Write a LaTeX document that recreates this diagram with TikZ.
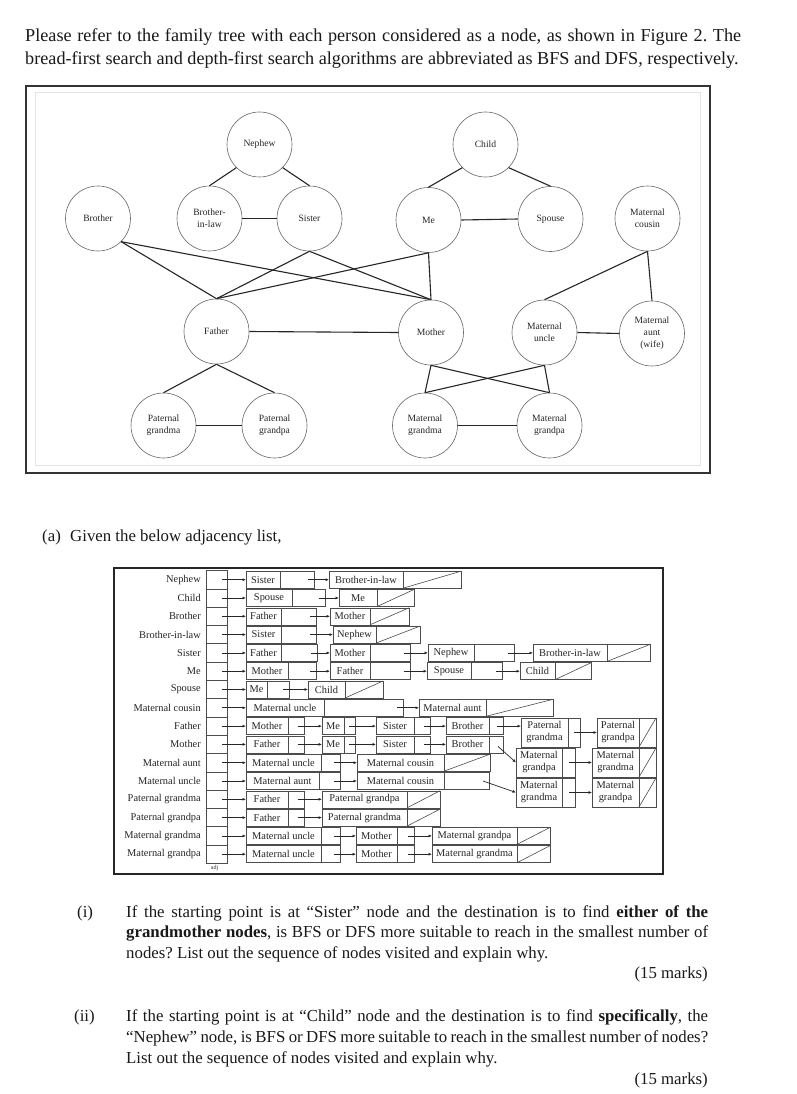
\documentclass[tikz,border=0pt]{standalone}
\usepackage{fontspec}
\setmainfont{Liberation Serif}
\usetikzlibrary{arrows.meta}
\frenchspacing
\newcommand\lcell[7]{%
  \node[lbox, minimum width={(#3-#2)*1pt}, minimum height={#6*1pt}, anchor=west] (#1) at (#2,#5) {#7};
  \node[lbox, minimum width={(#4-#3)*1pt}, minimum height={#6*1pt}, anchor=west] (#1p) at (#3,#5) {};}
\newcommand\lnull[1]{\draw[lline] (#1p.south west) -- (#1p.north east);}
\newcommand\larr[2]{\draw[arr] ([xshift=-6pt]#1p.east) -- (#1p.east -| #2.west);}
\begin{document}
\begin{tikzpicture}[x=1pt,y=-1pt,
  person/.style={circle, draw=black!60, line width=0.6pt, minimum size=65pt, inner sep=0pt, align=center, font=\fontsize{9.6}{12}\selectfont, text=black!85},
  edge/.style={line width=1.1pt, black!85},
  lbox/.style={draw=black!70, line width=0.6pt, inner sep=0pt, outer sep=0pt, align=center, font=\fontsize{10.4}{12}\selectfont, text=black!85},
  lline/.style={draw=black!70, line width=0.6pt},
  arr/.style={line width=0.7pt, black!85, -{Latex[length=3.5pt,width=3pt]}},
  rowlab/.style={anchor=east, font=\fontsize{10.4}{12}\selectfont, inner sep=0pt, text=black!85},
  body/.style={font=\fontsize{16.8}{20}\selectfont, inner sep=0pt, text=black!90},
  introtext/.style={font=\fontsize{18.2}{22}\selectfont, inner sep=0pt, text=black!90},
]
\useasboundingbox (0,0) rectangle (796,1094);
\fill[white] (0,0) rectangle (796,1094);

% ---------- intro text ----------
\node[introtext, anchor=base west] (intro1) at (25,42) {\makebox[716pt][s]{Please refer to the family tree with each person considered as a node, as shown in Figure 2. The}};
\node[introtext, anchor=base west] (intro2) at (25,65) {bread-first search and depth-first search algorithms are abbreviated as BFS and DFS, respectively.};

% ---------- family tree ----------
\draw[line width=1.3pt, black!80] (26,86) rectangle (710,473);
\draw[black!10, line width=0.6pt] (35,92) rectangle (700,465);

\node[person] (nephew) at (259.5,144.5) {Nephew};
\node[person] (child) at (485.5,144.5) {Child};
\node[person] (brother) at (98,218.5) {Brother};
\node[person] (bil) at (209.5,218.5) {Brother-\\in-law};
\node[person] (sister) at (309.5,218.5) {Sister};
\node[person] (me) at (428.5,220) {Me};
\node[person] (spouse) at (550.5,219) {Spouse};
\node[person] (mcousin) at (647.5,218.5) {Maternal\\cousin};
\node[person] (father) at (216.5,331.5) {Father};
\node[person] (mother) at (431,332.5) {Mother};
\node[person] (muncle) at (544.5,332.5) {Maternal\\uncle};
\node[person] (maunt) at (652,333.5) {Maternal\\aunt\\(wife)};
\node[person] (pgm) at (163.5,425.5) {Paternal\\grandma};
\node[person] (pgp) at (274.5,425.5) {Paternal\\grandpa};
\node[person] (mgm) at (425,425.5) {Maternal\\grandma};
\node[person] (mgp) at (549.5,425.5) {Maternal\\grandpa};

\draw[edge] (nephew.south west) -- (bil.north);
\draw[edge] (nephew.south east) -- (sister.north);
\draw[edge] (bil.east) -- (sister.west);
\draw[edge] (child.south west) -- (me.north);
\draw[edge] (child.south east) -- (spouse.north);
\draw[edge] (me.east) -- (spouse.west);
\draw[edge] (brother.south east) -- (father.north);
\draw[edge] (brother.south east) -- (mother.north);
\draw[edge] (sister.south) -- (father.north);
\draw[edge] (sister.south) -- (mother.north);
\draw[edge] (me.south) -- (father.north);
\draw[edge] (me.south) -- (mother.north);
\draw[edge] (mcousin.south) -- (muncle.north);
\draw[edge] (mcousin.south) -- (maunt.north);
\draw[edge] (father.east) -- (mother.west);
\draw[edge] (muncle.east) -- (maunt.west);
\draw[edge] (father.south) -- (pgm.north);
\draw[edge] (father.south) -- (pgp.north);
\draw[edge] (pgm.east) -- (pgp.west);
\draw[edge] (mother.south) -- (mgm.north);
\draw[edge] (mother.south) -- (mgp.north);
\draw[edge] (muncle.south) -- (mgm.north);
\draw[edge] (muncle.south) -- (mgp.north);
\draw[edge] (mgm.east) -- (mgp.west);

% ---------- part (a) ----------
\node[body, anchor=base west] (alab) at (42,541) {(a)};
\node[body, anchor=base west] (atext) at (70,541) {Given the below adjacency list,};

\draw[line width=1.1pt, black!85] (114,568) rectangle (663,874);

% Row 1
\lcell{a1}{246}{280}{314}{579.7}{17}{Sister}
\lcell{b1}{329}{403}{461}{579.7}{17}{Brother-in-law}\lnull{b1}
\larr{a1}{b1}
% Row 2
\lcell{a2}{246}{292}{325}{598}{17}{Spouse}
\lcell{b2}{339}{377}{414}{598}{17}{Me}\lnull{b2}
\larr{a2}{b2}
% Row 3
\lcell{a3}{246}{281}{316}{616.3}{17}{Father}
\lcell{b3}{330}{370}{409}{616.3}{17}{Mother}\lnull{b3}
\larr{a3}{b3}
% Row 4
\lcell{a4}{246}{281}{316}{634.6}{17}{Sister}
\lcell{b4}{333}{376}{420}{634.6}{17}{Nephew}\lnull{b4}
\larr{a4}{b4}
% Row 5
\lcell{a5}{246}{281}{317}{652.9}{17}{Father}
\lcell{b5}{330}{370}{410}{652.9}{17}{Mother}
\lcell{c5}{428}{474}{514}{652.9}{17}{Nephew}
\lcell{d5}{533}{607}{650}{652.9}{17}{Brother-in-law}\lnull{d5}
\larr{a5}{b5}\larr{b5}{c5}\larr{c5}{d5}
% Row 6
\lcell{a6}{246}{288}{316}{671.2}{17}{Mother}
\lcell{b6}{330}{370}{410}{671.2}{17}{Father}
\lcell{c6}{427}{471}{502}{671.2}{17}{Spouse}
\lcell{d6}{520}{555}{591}{671.2}{17}{Child}\lnull{d6}
\larr{a6}{b6}\larr{b6}{c6}\larr{c6}{d6}
% Row 7
\lcell{a7}{246}{267}{289}{689.5}{17}{Me}
\lcell{b7}{308}{345}{383}{689.5}{17}{Child}\lnull{b7}
\larr{a7}{b7}
% Row 8
\lcell{a8}{246}{324}{403}{707.8}{17}{Maternal uncle}
\lcell{b8}{419}{486}{553}{707.8}{17}{Maternal aunt}\lnull{b8}
\larr{a8}{b8}
% Row 9
\lcell{a9}{246}{288}{304}{726.1}{17}{Mother}
\lcell{b9}{322}{344}{355}{726.1}{17}{Me}
\lcell{c9}{376}{414}{430}{726.1}{17}{Sister}
\lcell{d9}{446}{489}{503}{726.1}{17}{Brother}
\lcell{e9}{521}{568}{580}{732.5}{29}{Paternal\\grandma}
\lcell{f9}{597}{639}{656}{732.5}{29}{Paternal\\grandpa}\lnull{f9}
\larr{a9}{b9}\larr{b9}{c9}\larr{c9}{d9}\larr{d9}{e9}\larr{e9}{f9}
% Row 10
\lcell{a10}{246}{288}{304}{744.4}{17}{Father}
\lcell{b10}{322}{344}{355}{744.4}{17}{Me}
\lcell{c10}{376}{414}{430}{744.4}{17}{Sister}
\lcell{d10}{446}{489}{503}{744.4}{17}{Brother}
\lcell{e10}{516}{562}{575}{762.5}{29}{Maternal\\grandpa}
\lcell{f10}{592}{639}{656}{762.5}{29}{Maternal\\grandma}\lnull{f10}
\larr{a10}{b10}\larr{b10}{c10}\larr{c10}{d10}\larr{e10}{f10}
\draw[arr] ([xshift=-5pt,yshift=-2pt]d10p.east) -- (e10.west);
% Row 11
\lcell{a11}{246}{321}{340}{762.7}{17}{Maternal uncle}
\lcell{b11}{357}{444}{490}{762.7}{17}{Maternal cousin}\lnull{b11}
\larr{a11}{b11}
% Row 12
\lcell{a12}{246}{319}{340}{781}{17}{Maternal aunt}
\lcell{b12}{357}{444}{489}{781}{17}{Maternal cousin}
\lcell{c12}{516}{562}{575}{792.5}{29}{Maternal\\grandma}
\lcell{d12}{592}{639}{656}{792.5}{29}{Maternal\\grandpa}\lnull{d12}
\larr{a12}{b12}\larr{c12}{d12}
\draw[arr] ([xshift=-6pt]b12p.east) -- (c12.west);
% Row 13
\lcell{a13}{246}{288}{304}{799.3}{17}{Father}
\lcell{b13}{322}{407}{440}{799.3}{17}{Paternal grandpa}\lnull{b13}
\larr{a13}{b13}
% Row 14
\lcell{a14}{246}{288}{304}{817.6}{17}{Father}
\lcell{b14}{322}{407}{440}{817.6}{17}{Paternal grandma}\lnull{b14}
\larr{a14}{b14}
% Row 15
\lcell{a15}{246}{321}{340}{835.9}{17}{Maternal uncle}
\lcell{b15}{356}{397}{414}{835.9}{17}{Mother}
\lcell{c15}{432}{517}{550}{835.9}{17}{Maternal grandpa}\lnull{c15}
\larr{a15}{b15}\larr{b15}{c15}
% Row 16
\lcell{a16}{246}{321}{340}{854.2}{17}{Maternal uncle}
\lcell{b16}{356}{397}{414}{854.2}{17}{Mother}
\lcell{c16}{432}{517}{550}{854.2}{17}{Maternal grandma}\lnull{c16}
\larr{a16}{b16}\larr{b16}{c16}

% adjacency column and labels
\foreach \i/\lab in {1/Nephew,2/Child,3/Brother,4/Brother-in-law,5/Sister,6/Me,7/Spouse,8/Maternal cousin,9/Father,10/Mother,11/Maternal aunt,12/Maternal uncle,13/Paternal grandma,14/Paternal grandpa,15/Maternal grandma,16/Maternal grandpa}{
  \node[lbox, minimum width=21pt, minimum height=18.3pt] (adj\i) at (216.5,{579.7+18.3*(\i-1)}) {};
  \node[rowlab] (lab\i) at (201,{579.7+18.3*(\i-1)}) {\lab};
  \draw[arr] ([xshift=-5pt]adj\i.east) -- (adj\i.east -| a\i.west);
}
\node[font=\fontsize{6}{7}\selectfont, inner sep=0pt, text=black!80] (adjlab) at (214.5,868.5) {adj};

% ---------- questions ----------
\node[body, anchor=base west] (qi) at (77,917) {(i)};
\node[body, anchor=base west] (q1a) at (126,917) {\makebox[582pt][s]{If the starting point is at “Sister” node and the destination is to find \textbf{either of the}}};
\node[body, anchor=base west] (q1b) at (126,937.5) {\makebox[582pt][s]{\textbf{grandmother nodes}, is BFS or DFS more suitable to reach in the smallest number of}};
\node[body, anchor=base west] (q1c) at (126,958) {nodes? List out the sequence of nodes visited and explain why.};
\node[body, anchor=base east] (m1) at (708,978) {(15 marks)};

\node[body, anchor=base west] (qii) at (74,1021) {(ii)};
\node[body, anchor=base west] (q2a) at (126,1021) {\makebox[582pt][s]{If the starting point is at “Child” node and the destination is to find \textbf{specifically}, the}};
\node[body, anchor=base west] (q2b) at (126,1042) {\makebox[582pt][s]{“Nephew” node, is BFS or DFS more suitable to reach in the smallest number of nodes?}};
\node[body, anchor=base west] (q2c) at (126,1063) {List out the sequence of nodes visited and explain why.};
\node[body, anchor=base east] (m2) at (708,1084) {(15 marks)};
\end{tikzpicture}
\end{document}
